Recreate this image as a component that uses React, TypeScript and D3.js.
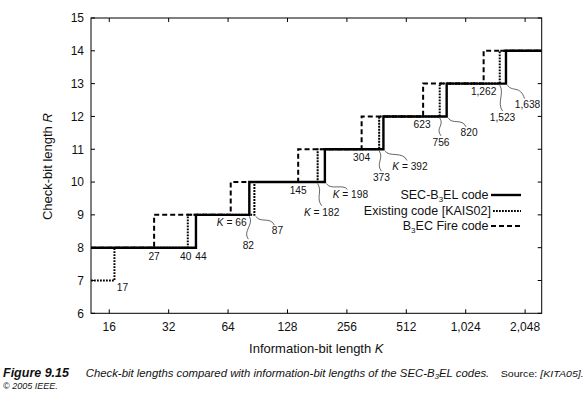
import React from "react";
import * as d3 from "d3";

// ---- data ----
const xTickValues = [16, 32, 64, 128, 256, 512, 1024, 2048];
const yTickValues = [6, 7, 8, 9, 10, 11, 12, 13, 14, 15];
const kDomain: [number, number] = [12.93, 2485];
const rDomain: [number, number] = [6, 15];

const secStartR = 8;
const secSteps = [44, 82, 198, 392, 820, 1638];
const existingStartR = 7;
const existingSteps = [17, 40, 87, 182, 373, 756, 1523];
const fireStartR = 8;
const fireSteps = [27, 66, 145, 304, 623, 1262];

const seriesNames = ["SEC-B3EL code", "Existing code [KAIS02]", "B3EC Fire code"];

// annotation: which series step is labelled, and whether label shows "K ="
const annotations = [
  { s: "existing", i: 0, kp: false, dx: 8, dy: 10.5, leader: "" },
  { s: "fire", i: 0, kp: false, dx: 0, dy: 12.5, leader: "" },
  { s: "existing", i: 1, kp: false, dx: -2, dy: 12.5, leader: "" },
  { s: "sec", i: 0, kp: false, dx: 5, dy: 12.5, leader: "" },
  { s: "fire", i: 1, kp: true, dx: 1, dy: 11, leader: "" },
  { s: "sec", i: 1, kp: false, dx: -1, dy: 34.3, leader: "down" },
  { s: "existing", i: 2, kp: false, dx: 23, dy: 19.3, leader: "right" },
  { s: "fire", i: 2, kp: false, dx: 0, dy: 11.7, leader: "" },
  { s: "existing", i: 3, kp: true, dx: 4, dy: 33.7, leader: "down" },
  { s: "sec", i: 2, kp: true, dx: 25.5, dy: 16.4, leader: "right" },
  { s: "fire", i: 3, kp: false, dx: 0, dy: 12, leader: "" },
  { s: "existing", i: 4, kp: false, dx: 2.3, dy: 32, leader: "down" },
  { s: "sec", i: 3, kp: true, dx: 26.6, dy: 20.3, leader: "right" },
  { s: "fire", i: 4, kp: false, dx: -1, dy: 11.4, leader: "" },
  { s: "existing", i: 5, kp: false, dx: 1.3, dy: 29.4, leader: "down" },
  { s: "sec", i: 4, kp: false, dx: 22.4, dy: 19.4, leader: "right" },
  { s: "fire", i: 5, kp: false, dx: 0, dy: 11.4, leader: "" },
  { s: "existing", i: 6, kp: false, dx: 2.8, dy: 37.4, leader: "down" },
  { s: "sec", i: 5, kp: false, dx: 21.5, dy: 24, leader: "right" },
];

const W = 588;
const H = 402;
const L = 91;
const T = 18;
const R = 541.7;
const B = 313.3;
const FONT = "'Liberation Sans', Arial, Helvetica, sans-serif";

function stepPoints(startR: number, steps: number[]): [number, number][] {
  const pts: [number, number][] = [[kDomain[0], startR]];
  steps.forEach((k, i) => pts.push([k, startR + i + 1]));
  pts.push([kDomain[1], startR + steps.length]);
  return pts;
}

export default function App() {
  const x = d3.scaleLog().base(2).domain(kDomain).range([L, R]);
  const y = d3.scaleLinear().domain(rDomain).range([B, T]);
  const line = d3
    .line<[number, number]>()
    .x((d) => x(d[0]))
    .y((d) => y(d[1]))
    .curve(d3.curveStepAfter);
  const fmt = d3.format(",");

  const series: Record<string, { start: number; steps: number[] }> = {
    sec: { start: secStartR, steps: secSteps },
    existing: { start: existingStartR, steps: existingSteps },
    fire: { start: fireStartR, steps: fireSteps },
  };

  const solidStyle = { stroke: "#000", strokeWidth: 2.4, fill: "none" };
  const dottedStyle = { stroke: "#000", strokeWidth: 2, fill: "none", strokeDasharray: "1.8,1.2" };
  const dashedStyle = { stroke: "#000", strokeWidth: 2, fill: "none", strokeDasharray: "5,3" };

  const sub = (before: string, after: string) => (
    <>
      {before}
      <tspan fontSize="8" dy="2.5">3</tspan>
      <tspan dy="-2.5">{after}</tspan>
    </>
  );

  return (
    <svg
      width={W}
      height={H}
      style={{ position: "absolute", left: 0, top: 0, background: "#fff" }}
      fontFamily={FONT}
    >
      <defs>
        <clipPath id="plotclip">
          <rect x={L} y={T} width={R - L} height={B - T} />
        </clipPath>
      </defs>

      {/* step lines */}
      <g clipPath="url(#plotclip)">
        <path d={line(stepPoints(fireStartR, fireSteps)) || ""} {...dashedStyle} />
        <path d={line(stepPoints(existingStartR, existingSteps)) || ""} {...dottedStyle} />
        <path d={line(stepPoints(secStartR, secSteps)) || ""} {...solidStyle} />
      </g>

      {/* frame */}
      <rect x={L} y={T} width={R - L} height={B - T} fill="none" stroke="#000" strokeWidth={1} />

      {/* x ticks */}
      {xTickValues.map((v) => (
        <g key={"x" + v}>
          <line x1={x(v)} x2={x(v)} y1={B} y2={B - 4} stroke="#000" strokeWidth={1} />
          <line x1={x(v)} x2={x(v)} y1={T} y2={T + 4} stroke="#000" strokeWidth={1} />
          <text x={x(v)} y={330.7} fontSize={12} textAnchor="middle" fill="#111">
            {fmt(v)}
          </text>
        </g>
      ))}

      {/* y ticks */}
      {yTickValues.map((v) => (
        <g key={"y" + v}>
          <line x1={L} x2={L + 4} y1={y(v)} y2={y(v)} stroke="#000" strokeWidth={1} />
          <line x1={R - 4} x2={R} y1={y(v)} y2={y(v)} stroke="#000" strokeWidth={1} />
          <text x={84} y={y(v)} dy="0.37em" fontSize={12} textAnchor="end" fill="#111">
            {v}
          </text>
        </g>
      ))}

      {/* axis titles */}
      <text x={316.3} y={352.7} fontSize={13} textAnchor="middle" fill="#111">
        Information-bit length <tspan fontStyle="italic">K</tspan>
      </text>
      <text
        transform={`translate(52,${(T + B) / 2 + 1}) rotate(-90)`}
        fontSize={13}
        textAnchor="middle"
        fill="#111"
      >
        Check-bit length <tspan fontStyle="italic">R</tspan>
      </text>

      {/* annotations */}
      {annotations.map((a, idx) => {
        const ser = series[a.s];
        const k = ser.steps[a.i];
        const r = ser.start + a.i;
        const px = x(k);
        const py = y(r);
        const lx = px + a.dx;
        const ly = py + a.dy;
        let leader = null;
        if (a.leader === "down") {
          const x1 = lx;
          const y1 = ly - 10;
          const y0 = py + 1.5;
          leader = `M${px},${y0} C${px + 5},${y0 + 8} ${x1 - 6},${y1 - 8} ${x1},${y1}`;
        } else if (a.leader === "right") {
          const x0 = px + 1.5;
          const y0 = py + 1.5;
          const x1 = lx - 3;
          const y1 = ly - 9;
          leader = `M${x0},${y0} C${x0 + 4},${y0 + 7} ${x1 - 4},${y0} ${x1},${y1}`;
        }
        return (
          <g key={"a" + idx}>
            {leader && <path d={leader} fill="none" stroke="#333" strokeWidth={0.75} />}
            <text x={lx} y={ly} fontSize={10.2} textAnchor="middle" fill="#111">
              {a.kp ? (
                <>
                  <tspan fontStyle="italic">K</tspan>
                  {" = " + fmt(k)}
                </>
              ) : (
                fmt(k)
              )}
            </text>
          </g>
        );
      })}

      {/* legend */}
      <g fontSize={12.5} fill="#111">
        <text x={488.5} y={199} textAnchor="end">
          {sub("SEC-B", "EL code")}
        </text>
        <line x1={491} x2={521} y1={195} y2={195} {...solidStyle} />
        <text x={491} y={214.5} textAnchor="end">
          {seriesNames[1]}
        </text>
        <line x1={493} x2={521} y1={211} y2={211} {...dottedStyle} />
        <text x={488.5} y={230} textAnchor="end">
          {sub("B", "EC Fire code")}
        </text>
        <line x1={491} x2={521} y1={226} y2={226} {...dashedStyle} />
      </g>

      {/* caption */}
      <text
        x={3}
        y={377}
        fontSize={12}
        fontWeight="bold"
        fontStyle="italic"
        fill="#111"
        textLength={66}
        lengthAdjust="spacingAndGlyphs"
      >
        Figure 9.15
      </text>
      <text
        x={85.7}
        y={377}
        fontSize={10.5}
        fontStyle="italic"
        fill="#111"
        textLength={403.6}
        lengthAdjust="spacingAndGlyphs"
      >
        Check-bit lengths compared with information-bit lengths of the SEC-B
        <tspan fontSize="7.5" dy="2">3</tspan>
        <tspan dy="-2">EL codes.</tspan>
      </text>
      <text x={500.7} y={377} fontSize={9.5} fill="#111" textLength={83} lengthAdjust="spacingAndGlyphs">
        Source: <tspan fontStyle="italic">[KITA05].</tspan>
      </text>
      <text x={3} y={388.5} fontSize={9} fontStyle="italic" fill="#111">
        © 2005 IEEE.
      </text>
    </svg>
  );
}
